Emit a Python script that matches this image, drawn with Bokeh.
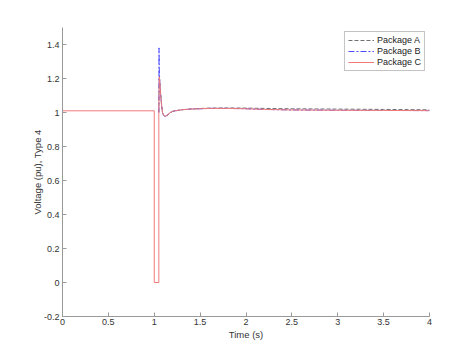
from bokeh.plotting import figure
from bokeh.models import FixedTicker, Range1d, Legend, LegendItem
from bokeh.embed import file_html
from bokeh.resources import INLINE

# Package C (full trace)
t_c = [0, 1.0, 1.0, 1.05, 1.05, 1.055, 1.06, 1.07, 1.08, 1.09, 1.10, 1.12, 1.14, 1.17, 1.2, 1.3, 1.4, 1.6, 1.8, 2.0, 2.2, 2.5, 3.0, 3.5, 4.0]
v_c = [1.01, 1.01, 0.0, 0.0, 1.0, 1.21, 1.18, 1.10, 1.04, 1.0, 0.985, 0.978, 0.985, 0.998, 1.008, 1.016, 1.020, 1.024, 1.024, 1.022, 1.018, 1.015, 1.013, 1.012, 1.011]
# Package A
t_a = [1.05, 1.055, 1.06, 1.07, 1.08, 1.09, 1.10, 1.12, 1.14, 1.17, 1.2, 1.3, 1.4, 1.6, 1.8, 2.0, 2.2, 2.5, 3.0, 3.5, 4.0]
v_a = [1.0, 1.21, 1.19, 1.11, 1.05, 1.0, 0.985, 0.975, 0.982, 0.996, 1.006, 1.016, 1.021, 1.026, 1.027, 1.026, 1.024, 1.022, 1.020, 1.018, 1.016]
# Package B
t_b = [1.05, 1.052, 1.055, 1.06, 1.07, 1.08, 1.09, 1.10, 1.12, 1.14, 1.17, 1.2, 1.3, 1.4, 1.6, 1.8, 2.0, 2.2, 2.5, 3.0, 3.5, 4.0]
v_b = [1.0, 1.38, 1.25, 1.18, 1.10, 1.04, 1.0, 0.985, 0.977, 0.985, 0.998, 1.008, 1.016, 1.020, 1.024, 1.024, 1.022, 1.018, 1.015, 1.013, 1.012, 1.011]

x_ticks = [0, 0.5, 1, 1.5, 2, 2.5, 3, 3.5, 4]
x_labels = ["0", "0.5", "1", "1.5", "2", "2.5", "3", "3.5", "4"]
y_ticks = [-0.2, 0, 0.2, 0.4, 0.6, 0.8, 1.0, 1.2, 1.4]
y_labels = ["-0.2", "0", "0.2", "0.4", "0.6", "0.8", "1", "1.2", "1.4"]

p = figure(width=474, height=355, output_backend="svg", toolbar_location=None,
           x_range=Range1d(0, 4), y_range=Range1d(-0.2, 1.5),
           min_border_left=62, min_border_right=45, min_border_top=27, min_border_bottom=39)
p.outline_line_color = None
p.xgrid.visible = False
p.ygrid.visible = False
p.background_fill_color = "white"

ra = p.line(t_a, v_a, line_color="#707070", line_dash="4 2", line_width=1)
rb = p.line(t_b, v_b, line_color="#4a4aff", line_dash="6 2 2 2", line_width=1)
rc = p.line(t_c, v_c, line_color="#f07a7a", line_width=1)

for ax, ticks, labels in ((p.xaxis[0], x_ticks, x_labels), (p.yaxis[0], y_ticks, y_labels)):
    ax.ticker = FixedTicker(ticks=ticks)
    ax.major_label_overrides = {t: l for t, l in zip(ticks, labels)}
    ax.minor_tick_line_color = None
    ax.major_tick_in = 4
    ax.major_tick_out = 0
    ax.axis_line_color = "#999999"
    ax.major_tick_line_color = "#999999"
    ax.major_label_text_font = "Liberation Sans"
    ax.major_label_text_font_size = "9px"
    ax.major_label_text_color = "#333333"
    ax.axis_label_text_font = "Liberation Sans"
    ax.axis_label_text_font_size = "9.5px"
    ax.axis_label_text_font_style = "normal"
    ax.axis_label_text_color = "#333333"

p.xaxis.axis_label = "Time (s)"
p.yaxis.axis_label = "Voltage (pu), Type 4"
p.xaxis.major_label_standoff = 2
p.xaxis.axis_label_standoff = 1
p.yaxis.major_label_standoff = 3
p.yaxis.axis_label_standoff = -2

legend = Legend(items=[LegendItem(label="Package A", renderers=[ra]),
                       LegendItem(label="Package B", renderers=[rb]),
                       LegendItem(label="Package C", renderers=[rc])],
                location="top_right")
legend.label_text_font = "Liberation Sans"
legend.label_text_font_size = "9px"
legend.label_text_color = "#222222"
legend.border_line_color = "#888888"
legend.glyph_width = 26
legend.glyph_height = 10
legend.label_height = 10
legend.spacing = 1
legend.padding = 3
legend.margin = 4
legend.label_standoff = 3
p.add_layout(legend)

open("out.html", "w").write(file_html(p, INLINE))
